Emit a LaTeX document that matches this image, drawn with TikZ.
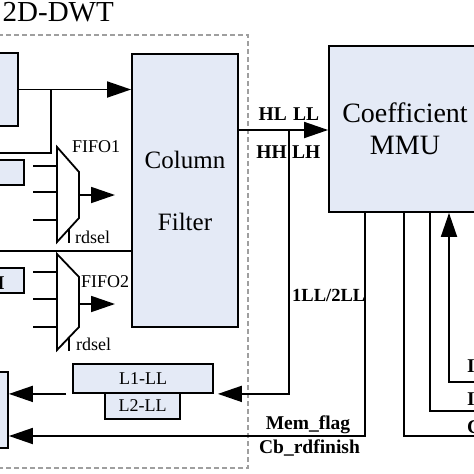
\documentclass[tikz,border=0pt]{standalone}
\usepackage{fontspec}
\setmainfont{Liberation Serif}
\usepackage{xcolor}
\usetikzlibrary{arrows.meta}
\definecolor{boxblue}{RGB}{228,234,246}
\tikzset{
  blk/.style={draw, fill=boxblue, line width=1.8pt, inner sep=0pt},
  wire/.style={line width=1.8pt},
  arr/.style={wire, -{Triangle[length=24pt,width=16pt]}},
  frame/.style={draw=gray!75, line width=1.1pt, dash pattern=on 5pt off 3pt},
  sig/.style={font=\bfseries\fontsize{19.5}{22}\selectfont, inner sep=0pt},
  small/.style={font=\fontsize{18}{20}\selectfont, inner sep=0pt},
}

\begin{document}
\begin{tikzpicture}[x=1pt, y=-1pt]
    \useasboundingbox (0,0) rectangle (474,474);
    \draw[frame] (-10,35) -- (248,35) -- (248,468) -- (-10,468);
    \node[font=\fontsize{29}{34}\selectfont, anchor=base east, inner sep=0pt] (title) at (114,21) {2D-DWT};

    % blocks
    \node[blk, minimum width=38, minimum height=73] (a) at (-1,89.5) {};
    \node[blk, minimum width=44, minimum height=25] (b) at (2,172.5) {};
    \node[blk, minimum width=44, minimum height=25] (c) at (2,280.5) {};
    \node[sig, anchor=base east] (ctext) at (5,289) {I};
    \node[blk, minimum width=28, minimum height=76] (d) at (-6,410) {};
    \node[blk, minimum width=106, minimum height=273, align=center,
          font=\fontsize{25}{30}\selectfont] (col) at (185,190.5) {Column\\[32pt]Filter};
    \node[blk, minimum width=152, minimum height=166, align=center,
          font=\fontsize{28}{32}\selectfont] (mmu) at (405,129) {Coefficient\\MMU};
    \node[blk, minimum width=140, minimum height=29, font=\fontsize{18}{20}\selectfont] (l1) at (143,378.5) {L1-LL};
    \node[blk, minimum width=75, minimum height=26, font=\fontsize{18}{20}\selectfont] (l2) at (142.5,406) {L2-LL};

    % fifo muxes
    \draw[wire, fill=white] (57,147) -- (79,172) -- (79,218) -- (57,242) -- cycle;
    \draw[wire] (33,166) -- (57,166);
    \draw[wire] (33,192) -- (57,192);
    \draw[wire] (33,220) -- (57,220);
    \draw[wire] (69,229) -- (69,243);
    \node[small, anchor=base west] (fifo1) at (72,152) {FIFO1};
    \node[small, anchor=base west] (rdsel1) at (75,243) {rdsel};
    \draw[wire, fill=white] (57,254) -- (79,277) -- (79,327) -- (57,350) -- cycle;
    \draw[wire] (33,272) -- (57,272);
    \draw[wire] (33,299) -- (57,299);
    \draw[wire] (33,327) -- (57,327);
    \draw[wire] (69,337) -- (69,351);
    \node[small, anchor=base west] (fifo2) at (81,287) {FIFO2};
    \node[small, anchor=base west] (rdsel2) at (76,350) {rdsel};
    \coordinate (f1out) at (79,195);
    \coordinate (f1end) at (115,195);
    \coordinate (f2out) at (79,304);
    \coordinate (f2end) at (115,304);
    \draw[arr] (f1out) -- (f1end);
    \draw[arr] (f2out) -- (f2end);

    % row path into column filter
    \coordinate (br) at (51,89.5);
    \coordinate (in1) at (-10,153);
    \coordinate (in2) at (-10,251);
    \draw[arr] (a.east) -- (col.west |- a.east);
    \draw[wire] (br) |- (in1);
    \draw[wire] (in2) -- (col.west |- in2);

    % column filter out
    \coordinate (hl) at (289,130);
    \draw[arr] (col.east |- hl) -- (mmu.west |- hl);
    \draw[arr] (hl) |- ([xshift=4pt]l1.south east);
    \draw[arr] ([xshift=-6pt]l1.south west) -- (d.east |- l1.south west);
    \node[sig, anchor=base east] (hltext) at (287,120) {HL};
    \node[sig, anchor=base west] (lltext) at (293,120) {LL};
    \node[sig, anchor=base east] (hhtext) at (287,158) {HH};
    \node[sig, anchor=base west] (lhtext) at (292,158) {LH};
    \node[sig, font=\bfseries\fontsize{18.5}{22}\selectfont, anchor=base west] (lltwo) at (292,301) {1LL/2LL};

    % memory side
    \coordinate (mf) at (365,436);
    \draw[arr] (mmu.south -| mf) -- (mf) -- (d.east |- mf);
    \node[sig, anchor=base] (memflag) at (308,429) {Mem\_flag};
    \node[sig, anchor=base] (cbrd) at (309.5,453) {Cb\_rdfinish};
    \coordinate (c2) at (404,436);
    \coordinate (r2) at (480,436);
    \draw[wire] (mmu.south -| c2) -- (c2) -- (r2);
    \coordinate (c3) at (430,411);
    \coordinate (r3) at (480,411);
    \draw[wire] (mmu.south -| c3) -- (c3) -- (r3);
    \coordinate (c4) at (449,382);
    \coordinate (r4) at (480,382);
    \draw[arr] (r4) -- (c4) -- (mmu.south -| c4);
    \node[sig, anchor=base west] (rt1) at (467,372) {I};
    \node[sig, anchor=base west] (rt2) at (467,405) {I};
    \node[sig, anchor=base west] (rt3) at (467,433) {C};
\end{tikzpicture}
\end{document}
